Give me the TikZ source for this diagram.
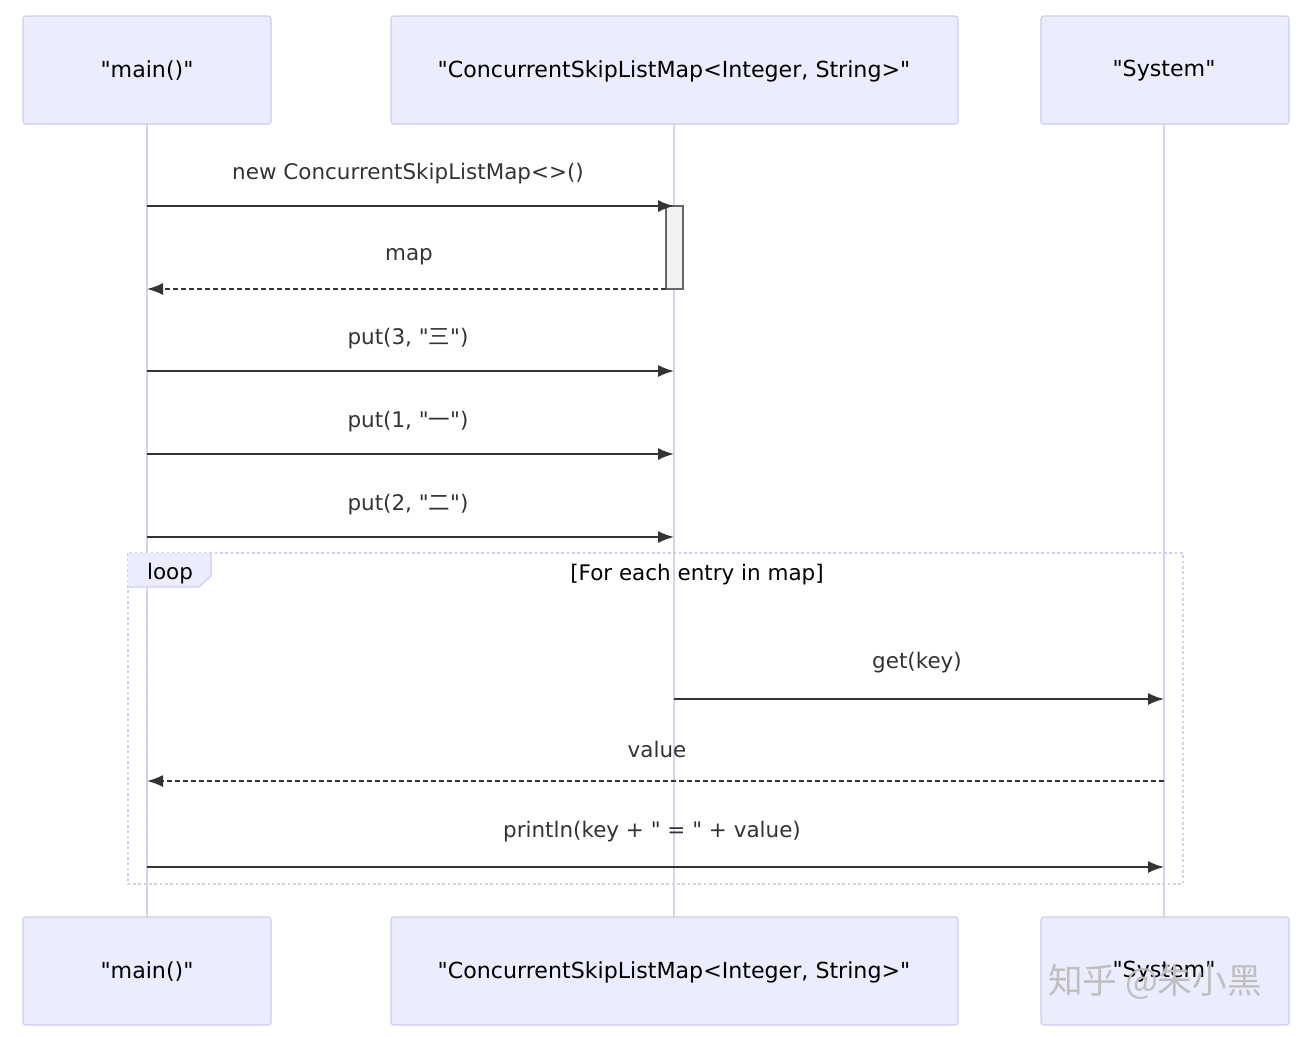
\documentclass[tikz,border=0pt]{standalone}
\usepackage{fontspec}
\setmainfont{DejaVu Sans}[Ligatures=TeXOff]
\newfontfamily\cjk{Noto Sans CJK SC}
\newcommand{\qq}{"}
\begin{document}
\begin{tikzpicture}[x=0.75pt,y=-0.75pt,
 actor/.style={draw=boxline,fill=boxfill,rounded corners=2pt,line width=0.8pt},
 life/.style={draw=lifec,line width=1.5pt},
 msg/.style={draw=msgc,line width=1.3pt,-{Latex[length=12pt,width=9pt]}},
 ret/.style={msg,dash pattern=on 3.5pt off 2.5pt},
 lbl/.style={font=\fontsize{16.1}{18}\selectfont,text=msgc,inner sep=0pt},
 atxt/.style={font=\fontsize{16.6}{20}\selectfont,text=black,inner sep=0pt}]
\usetikzlibrary{arrows.meta}
\definecolor{boxfill}{HTML}{ECECFF}
\definecolor{boxline}{HTML}{CCCCEE}
\definecolor{lifec}{HTML}{D8D0EC}
\definecolor{msgc}{HTML}{333333}
\definecolor{loopc}{HTML}{CFCFF0}
\useasboundingbox (0,0) rectangle (1311,1036);
\foreach \x in {147,674,1164}{\draw[life] (\x,124) -- (\x,917);}
\draw[actor] (23,16) rectangle (271,124);  \node[atxt] (m1) at (147,71) {\qq main()\qq};
\draw[actor] (391,16) rectangle (958,124); \node[atxt] (c1) at (674,71) {\qq ConcurrentSkipListMap<Integer, String>\qq};
\draw[actor] (1041,16) rectangle (1289,124); \node[atxt] (s1) at (1164,71) {\qq System\qq};
\draw[actor] (23,917) rectangle (271,1025);  \node[atxt] (m2) at (147,972) {\qq main()\qq};
\draw[actor] (391,917) rectangle (958,1025); \node[atxt] (c2) at (674,972) {\qq ConcurrentSkipListMap<Integer, String>\qq};
\draw[actor] (1041,917) rectangle (1289,1025); \node[atxt] (s2) at (1164,972) {\qq System\qq};
\draw[fill=black!5,draw=black!60,line width=0.8pt] (666,206) rectangle (683,289);
\coordinate (a1) at (147,206); \coordinate (b1) at (674,206);
\draw[msg] (a1) -- (b1); \node[lbl] at (408,174) {new ConcurrentSkipListMap<>()};
\coordinate (a2) at (147,289); \coordinate (b2) at (666,289);
\draw[ret] (b2) -- (a2); \node[lbl] at (409,257) {map};
\coordinate (a3) at (147,371); \coordinate (b3) at (674,371);
\draw[msg] (a3) -- (b3); \node[lbl] at (408,339) {put(3, \qq{\cjk 三}\qq)};
\coordinate (a4) at (147,454); \coordinate (b4) at (674,454);
\draw[msg] (a4) -- (b4); \node[lbl] at (408,422) {put(1, \qq{\cjk 一}\qq)};
\coordinate (a5) at (147,537); \coordinate (b5) at (674,537);
\draw[msg] (a5) -- (b5); \node[lbl] at (408,505) {put(2, \qq{\cjk 二}\qq)};
\draw[loopc,line width=2pt,dash pattern=on 2pt off 2pt] (128,553) rectangle (1183,884);
\fill[boxfill] (128,553) -- (211,553) -- (211,576) -- (199,587) -- (128,587) -- cycle;
\draw[loopc,line width=1pt] (211,553) -- (211,576) -- (199,587) -- (128,587);
\node[lbl,text=black] at (170,574) {loop};
\node[lbl,text=black] at (697,575) {[For each entry in map]};
\coordinate (b6) at (674,699); \coordinate (c6) at (1164,699);
\draw[msg] (b6) -- (c6); \node[lbl] at (917,663) {get(key)};
\coordinate (c7) at (1164,781); \coordinate (a7) at (147,781);
\draw[ret] (c7) -- (a7); \node[lbl] at (657,749) {value};
\coordinate (a8) at (147,867); \coordinate (c8) at (1164,867);
\draw[msg] (a8) -- (c8); \node[lbl] at (652,832) {println(key + \qq{} = \qq{} + value)};
\node[font=\cjk\fontsize{26}{28}\selectfont,text=black!25,inner sep=0pt] (wm) at (1155,982) {知乎 @朱小黑};
\end{tikzpicture}
\end{document}
